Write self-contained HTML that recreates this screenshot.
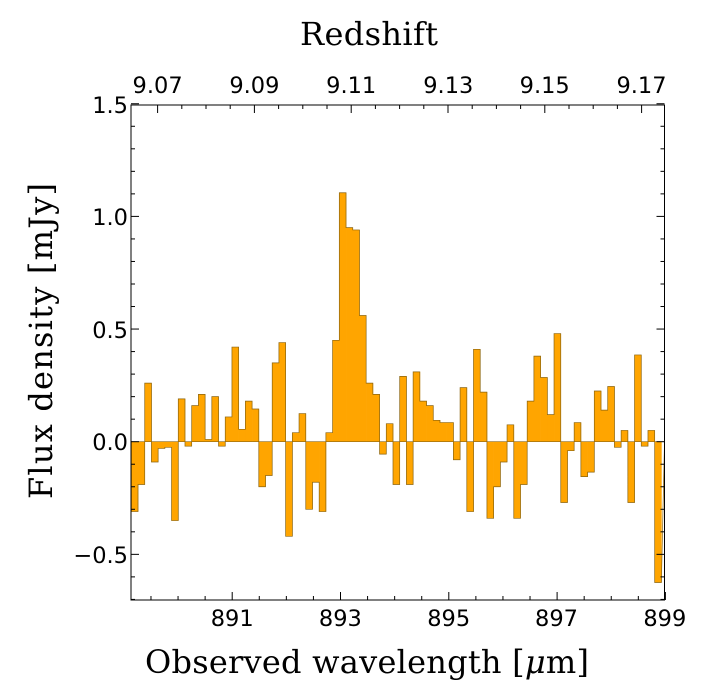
<!DOCTYPE html>
<html><head><meta charset="utf-8"><style>
html,body{margin:0;padding:0;background:#fff;}
svg{display:block;}
.t{font-family:"DejaVu Sans","Liberation Sans",sans-serif;font-size:22.5px;fill:#000;}
.s{font-family:"DejaVu Serif","Liberation Serif",serif;font-size:32px;fill:#000;}
</style></head><body>
<svg id="c" width="720" height="699" viewBox="0 0 720 699" xmlns="http://www.w3.org/2000/svg">
<g id="bars"></g>
<path id="outl" fill="none" stroke="#8a6410" stroke-width="0.7"/>
<g id="ticks" stroke="#000" stroke-width="1"></g>
<rect x="131" y="105" width="533.5" height="495" fill="none" stroke="#000" stroke-width="1"/>
<g class="t" text-anchor="end">
<text x="128" y="113">1.5</text>
<text x="128" y="225">1.0</text>
<text x="128" y="338">0.5</text>
<text x="128" y="450">0.0</text>
<text x="128" y="563">−0.5</text>
</g>
<g class="t" text-anchor="middle">
<text x="232.2" y="626">891</text>
<text x="340.4" y="626">893</text>
<text x="448.7" y="626">895</text>
<text x="556.5" y="626">897</text>
<text x="664.8" y="626">899</text>
<text x="157.6" y="93">9.07</text>
<text x="254.4" y="93">9.09</text>
<text x="351.2" y="93">9.11</text>
<text x="448.3" y="93">9.13</text>
<text x="544.7" y="93">9.15</text>
<text x="641.5" y="93">9.17</text>
</g>
<text class="s" x="369" y="45" text-anchor="middle" textLength="138">Redshift</text>
<text class="s" x="367" y="673" text-anchor="middle" textLength="444">Observed wavelength [<tspan font-style="italic">μ</tspan>m]</text>
<text class="s" transform="translate(52,341) rotate(-90)" text-anchor="middle" textLength="316">Flux density [mJy]</text>
</svg>
<script>
var vals=[-0.31,-0.19,0.26,-0.09,-0.03,-0.025,-0.35,0.19,-0.02,0.16,0.21,0.01,0.20,-0.02,0.11,0.42,0.055,0.18,0.145,-0.20,-0.15,0.35,0.44,-0.42,0.04,0.125,-0.30,-0.18,-0.31,0.04,0.45,1.105,0.95,0.94,0.56,0.26,0.21,-0.055,0.08,-0.19,0.29,-0.19,0.31,0.18,0.16,0.095,0.085,0.085,-0.08,0.24,-0.31,0.41,0.22,-0.34,-0.20,-0.09,0.075,-0.34,-0.19,0.18,0.38,0.285,0.12,0.48,-0.27,-0.04,0.085,-0.155,-0.135,0.225,0.14,0.245,-0.025,0.05,-0.27,0.385,-0.02,0.05,-0.625];
var g=document.getElementById("bars"),h="";
var y0=441.7,k=225.3,w=6.71,x0=131.3,d="";
for(var i=0;i<vals.length;i++){var x=x0+i*w,ww=Math.min(w,664.5-x),y=y0-vals[i]*k;
h+='<rect x="'+x.toFixed(2)+'" y="'+Math.min(y,y0).toFixed(2)+'" width="'+(ww+0.3).toFixed(2)+'" height="'+Math.abs(y-y0).toFixed(2)+'" fill="#FFA500"/>';
d+=(i==0?'M'+x.toFixed(2)+','+y0+' L':' L')+x.toFixed(2)+','+y.toFixed(2)+' L'+(x+ww).toFixed(2)+','+y.toFixed(2);}
d+=' L664.5,'+y0+' M'+x0+','+y0+' L664.5,'+y0;
g.innerHTML=h;
document.getElementById("outl").setAttribute("d",d);
var t="";
function L(a,b,c,e){t+='<line x1="'+a+'" y1="'+b+'" x2="'+c+'" y2="'+e+'"/>';}
for(var v=-0.7;v<=1.5001;v+=0.1){var y=y0-v*k;if(y>600)continue;var maj=Math.abs(Math.round(v*2)-v*2)<1e-6;var l=maj?8:4;L(131,y,131+l,y);L(664.5,y,664.5-l,y);}
for(var m=889.5;m<=899.001;m+=0.5){var x=232.2+(m-891)*54.15;var maj=Math.abs((m-891)/2-Math.round((m-891)/2))<1e-6;L(x,600,x,600-(maj?8:4));}
for(var j=-4;j<=21;j++){var x=254.4+j*24.2;if(x<132||x>664)continue;var maj=(j%4==0);L(x,105,x,105+(maj?8:4));}
document.getElementById("ticks").innerHTML=t;
</script>
</body></html>
